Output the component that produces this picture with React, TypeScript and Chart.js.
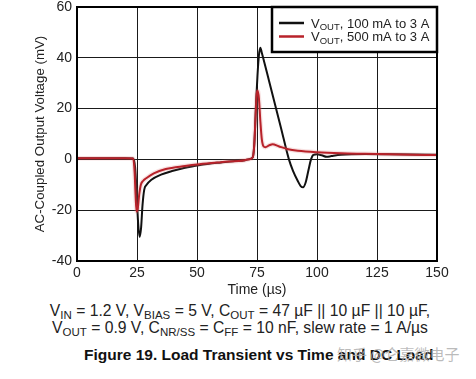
import React, { useEffect, useRef } from "react";
import { Chart, registerables } from "chart.js";

Chart.register(...registerables);

const xTicks = [0, 25, 50, 75, 100, 125, 150];
const yTicks = [-40, -20, 0, 20, 40, 60];

const blackT = [0, 10, 20, 23.4, 24.2, 24.8, 25.4, 26.1, 26.7, 27.3, 28, 29, 31, 35, 40, 45, 50, 55, 60, 65, 70, 72.5, 73.3, 74, 74.6, 75.2, 75.8, 76.4, 77, 80, 85, 88.3, 90, 92, 93.2, 94.2, 95.3, 96.5, 97.5, 98.5, 100, 102, 104, 106, 110, 120, 130, 140, 150];
const blackV = [0.5, 0.5, 0.5, 0.4, -3, -12, -24, -30.5, -27, -18, -12, -10, -8, -6, -4.5, -3.3, -2.4, -1.7, -1.2, -0.7, -0.3, 0.3, 1, 8, 22, 33, 41, 44, 42, 31, 12.4, 0, -4.5, -8.5, -10.5, -11, -9, -4, 0, 1.8, 2, 1.6, 1.0, 1.3, 1.8, 2.1, 2, 1.9, 1.8];

const redT = [0, 10, 20, 23.4, 24.0, 24.4, 24.8, 25.3, 25.9, 26.6, 27.5, 29, 32, 37, 45, 51, 60, 70, 72, 73.2, 73.8, 74.4, 74.9, 75.3, 75.8, 76.4, 77, 77.7, 78.5, 80, 81.5, 84, 88, 92, 100, 110, 120, 135, 150];
const redV = [0.5, 0.5, 0.5, 0.4, -5, -14, -20.5, -19.5, -14, -10, -8.5, -7.3, -5.5, -3.8, -2.6, -1.9, -1.1, -0.3, 0.1, 0.8, 5, 17, 26, 27, 24, 15, 8, 5.2, 4.8, 5.5, 6, 5.2, 4, 3.4, 2.8, 2.4, 2.2, 1.9, 1.7];

const legendRows = [
  { main: "V", sub: "OUT", rest: ", 100 mA to 3 A", color: "#111111" },
  { main: "V", sub: "OUT", rest: ", 500 mA to 3 A", color: "#b8222a" },
];

const FONT = "'Liberation Sans', Arial, sans-serif";

const toPts = (t: number[], v: number[]) => t.map((x, i) => ({ x, y: v[i] }));

const framePlugin = {
  id: "frameLegend",
  afterDatasetsDraw(chart: any) {
    const { ctx, chartArea: a } = chart;
    ctx.save();
    ctx.strokeStyle = "#000";
    ctx.lineWidth = 2;
    ctx.strokeRect(a.left, a.top, a.right - a.left, a.bottom - a.top);
    const w = 165;
    const h = 45;
    const x0 = a.right - w;
    const y0 = a.top;
    ctx.fillStyle = "#fff";
    ctx.fillRect(x0, y0, w, h);
    ctx.lineWidth = 2.5;
    ctx.strokeStyle = "#000";
    ctx.strokeRect(x0, y0, w, h);
    const rowsY = [16, 29.5];
    legendRows.forEach((r, i) => {
      const y = y0 + rowsY[i];
      ctx.strokeStyle = r.color;
      ctx.lineWidth = 2.5;
      ctx.beginPath();
      ctx.moveTo(x0 + 7, y);
      ctx.lineTo(x0 + 32, y);
      ctx.stroke();
      ctx.fillStyle = "#222";
      ctx.textBaseline = "alphabetic";
      ctx.textAlign = "left";
      const base = y + 4.5;
      let x = x0 + 39;
      ctx.font = `13px ${FONT}`;
      ctx.fillText(r.main, x, base);
      x += ctx.measureText(r.main).width;
      ctx.font = `9.5px ${FONT}`;
      ctx.fillText(r.sub, x, base + 2.5);
      x += ctx.measureText(r.sub).width;
      ctx.font = `13px ${FONT}`;
      ctx.fillText(r.rest, x, base);
    });
    ctx.restore();
  },
};

export default function App() {
  const ref = useRef<HTMLCanvasElement | null>(null);
  useEffect(() => {
    if (!ref.current) return;
    const chart = new Chart(ref.current, {
      type: "line",
      data: {
        datasets: [
          {
            label: "VOUT, 500 mA to 3 A",
            data: toPts(redT, redV),
            borderColor: "#b8222a",
            borderWidth: 2,
            pointRadius: 0,
            cubicInterpolationMode: "monotone",
            order: 0,
          },
          {
            label: "glow",
            data: toPts(redT, redV),
            borderColor: "rgba(220,120,120,0.22)",
            borderWidth: 4.5,
            pointRadius: 0,
            cubicInterpolationMode: "monotone",
            order: 1,
          },
          {
            label: "VOUT, 100 mA to 3 A",
            data: toPts(blackT, blackV),
            borderColor: "#111111",
            borderWidth: 2,
            pointRadius: 0,
            cubicInterpolationMode: "monotone",
            order: 2,
          },
        ],
      },
      options: {
        animation: false,
        responsive: true,
        maintainAspectRatio: false,
        layout: { padding: { left: 0, right: 39, top: 7, bottom: 0 } },
        plugins: { legend: { display: false }, tooltip: { enabled: false } },
        scales: {
          x: {
            type: "linear",
            min: 0,
            max: 150,
            afterBuildTicks: (s: any) => {
              s.ticks = xTicks.map((v) => ({ value: v }));
            },
            afterFit: (s: any) => {
              s.height = 39;
              s.paddingLeft = 0;
              s.paddingRight = 0;
            },
            grid: { color: "#1a1a1a", lineWidth: 1, drawTicks: false },
            border: { display: false },
            ticks: { padding: 4, color: "#222", font: { family: FONT, size: 14 } },
            title: {
              display: true,
              text: "Time (µs)",
              color: "#222",
              font: { family: FONT, size: 14 },
              padding: { top: 0, bottom: 1 },
            },
          },
          y: {
            type: "linear",
            min: -40,
            max: 60,
            afterBuildTicks: (s: any) => {
              s.ticks = yTicks.map((v) => ({ value: v }));
            },
            afterFit: (s: any) => {
              s.width = 77;
              s.paddingTop = 0;
              s.paddingBottom = 0;
            },
            grid: { color: "#1a1a1a", lineWidth: 1, drawTicks: false },
            border: { display: false },
            ticks: { padding: 5, color: "#222", font: { family: FONT, size: 14 } },
            title: {
              display: true,
              text: "AC-Coupled Output Voltage (mV)",
              color: "#222",
              font: { family: FONT, size: 13.3 },
              padding: { top: 32, bottom: 0 },
            },
          },
        },
      },
      plugins: [framePlugin],
    });
    return () => chart.destroy();
  }, []);

  const subStyle: React.CSSProperties = { fontSize: "11.5px", verticalAlign: "-3px", lineHeight: 0 };

  return (
    <div style={{ position: "absolute", left: 0, top: 0, width: 476, height: 379, background: "#fff", overflow: "hidden" }}>
      <div style={{ position: "absolute", left: 0, top: 0, width: 476, height: 300 }}>
        <canvas ref={ref} />
      </div>
      <div
        style={{
          position: "absolute",
          left: 0,
          top: 302,
          width: 480,
          textAlign: "center",
          fontFamily: FONT,
          fontSize: "15.7px",
          lineHeight: "17px",
          color: "#222",
          whiteSpace: "nowrap",
        }}
      >
        V<span style={subStyle}>IN</span> = 1.2 V, V<span style={subStyle}>BIAS</span> = 5 V, C<span style={subStyle}>OUT</span> = 47 µF || 10 µF || 10 µF,
        <br />
        V<span style={subStyle}>OUT</span> = 0.9 V, C<span style={subStyle}>NR/SS</span> = C<span style={subStyle}>FF</span> = 10 nF, slew rate = 1 A/µs
      </div>
      <div
        style={{
          position: "absolute",
          left: 84,
          top: 346,
          fontFamily: FONT,
          fontWeight: "bold",
          fontSize: "15.5px",
          lineHeight: "18px",
          color: "#111",
          whiteSpace: "nowrap",
        }}
      >
        Figure 19. Load Transient vs Time and DC Load
      </div>
      <div
        style={{
          position: "absolute",
          left: 337,
          top: 345,
          fontFamily: "'Noto Sans CJK SC', sans-serif",
          fontSize: "15px",
          lineHeight: "18px",
          color: "rgba(175,175,175,0.85)",
          whiteSpace: "nowrap",
        }}
      >
        知乎 @仑嘉微电子
      </div>
    </div>
  );
}
